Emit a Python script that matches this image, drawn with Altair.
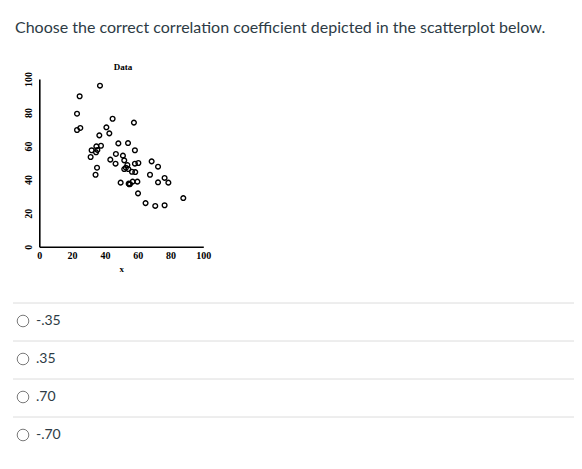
import altair as alt
import pandas as pd

question = "Choose the correct correlation coefficient depicted in the scatterplot below."
plot_title = "Data"
x_label = "x"

xs = [37.0, 24.6, 23.0, 23.0, 25.0, 44.7, 57.7, 40.9, 42.7, 36.6, 48.2, 54.1, 34.8, 37.6,
      31.9, 35.4, 34.6, 31.3, 58.3, 46.7, 51.0, 51.8, 43.3, 46.5, 53.7, 52.8, 51.8, 54.3,
      35.2, 58.3, 60.4, 68.5, 72.4, 56.5, 58.5, 34.3, 67.5, 76.4, 49.6, 72.4, 78.7, 56.9,
      59.8, 55.3, 54.9, 54.5, 60.2, 64.8, 76.4, 70.7, 87.8]
ys = [96.0, 89.7, 79.3, 69.6, 70.8, 76.3, 74.0, 71.2, 67.6, 66.4, 61.6, 61.8, 59.8, 60.2,
      57.5, 57.7, 56.3, 53.5, 57.5, 55.3, 54.3, 51.5, 51.9, 49.5, 48.7, 47.1, 46.3, 46.3,
      47.1, 49.5, 49.9, 50.9, 47.7, 44.7, 44.5, 42.9, 42.9, 41.0, 38.2, 38.4, 38.2, 38.8,
      38.8, 37.4, 37.2, 37.6, 31.8, 26.0, 24.7, 24.3, 29.0]

options = ["-.35", ".35", ".70", "-.70"]
axis_ticks = [0, 20, 40, 60, 80, 100]

pts = pd.DataFrame({"x": xs, "y": ys})
opts = pd.DataFrame({"option": options})

W, H = 566, 453
X_RANGE = [31.3, 195.3]
Y_RANGE = [238.7, 71.0]

serif = "Liberation Serif"
ui = "Lato"
txt_color = "#2d3b45"

xscale = alt.Scale(domain=[0, 100], range=X_RANGE)
yscale = alt.Scale(domain=[0, 100], range=Y_RANGE)

scatter = alt.Chart(pts).mark_point(
    shape="circle", filled=False, color="black", size=22, strokeWidth=1.4, opacity=1
).encode(
    x=alt.X("x:Q", scale=xscale,
            axis=alt.Axis(values=axis_ticks, offset=Y_RANGE[0] - H, grid=False,
                          ticks=False, tickSize=0, domainColor="black", domainWidth=1.6,
                          labelFont=serif, labelFontWeight="bold", labelFontSize=10,
                          labelColor="black", labelPadding=4, labelFlush=False,
                          title=x_label, titleFont=serif, titleFontWeight="bold",
                          titleFontSize=9, titleColor="black", titlePadding=4)),
    y=alt.Y("y:Q", scale=yscale,
            axis=alt.Axis(values=axis_ticks, offset=-X_RANGE[0], grid=False,
                          ticks=False, tickSize=0, domainColor="black", domainWidth=1.6,
                          labelFont=serif, labelFontWeight="bold", labelFontSize=10,
                          labelColor="black", labelAngle=270, labelAlign="center",
                          labelBaseline="middle", labelPadding=10.5, labelFlush=False,
                          title=None)),
)

data_title = alt.Chart(pd.DataFrame({"t": [plot_title]})).mark_text(
    font=serif, fontWeight="bold", fontSize=9, color="black", baseline="middle"
).encode(text="t:N", x=alt.value(115), y=alt.value(59))

q_text = alt.Chart(pd.DataFrame({"t": [question]})).mark_text(
    font=ui, fontSize=16, color=txt_color, align="left", baseline="alphabetic"
).encode(text="t:N", x=alt.value(7), y=alt.value(25))

oscale = alt.Scale(type="point", domain=options, range=[313, 427], padding=0)

sep = alt.Chart(opts).mark_rule(color="#dcdcdc", strokeWidth=1, yOffset=-18).encode(
    y=alt.Y("option:N", scale=oscale, axis=None),
    x=alt.value(5), x2=alt.value(W),
)
radio = alt.Chart(opts).mark_point(
    shape="circle", filled=True, fill="white", stroke="#7a7a7a", strokeWidth=1, size=135, opacity=1
).encode(
    y=alt.Y("option:N", scale=oscale, axis=None),
    x=alt.value(15),
)
labels = alt.Chart(opts).mark_text(
    font=ui, fontSize=14, color=txt_color, align="left", baseline="middle"
).encode(
    y=alt.Y("option:N", scale=oscale, axis=None),
    x=alt.value(28),
    text="option:N",
)

options_layer = alt.layer(sep, radio, labels)

chart = alt.layer(scatter, data_title, q_text, options_layer).resolve_scale(
    y="independent"
).properties(
    width=W, height=H, padding=0, autosize=alt.AutoSizeParams(type="none"),
    background="white"
).configure_view(stroke=None)

chart.save("out.html", embed_options={"renderer": "svg", "actions": False})
